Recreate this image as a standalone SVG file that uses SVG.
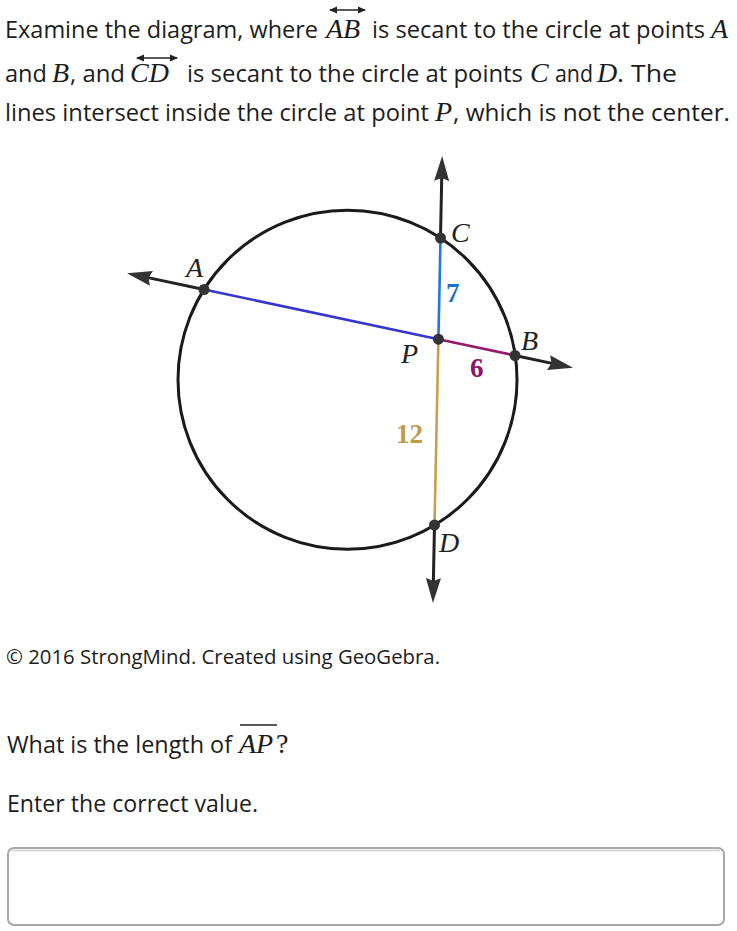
<svg xmlns="http://www.w3.org/2000/svg" width="737" height="931" viewBox="0 0 737 931">
<style>
.t{font-family:"Open Sans","DejaVu Sans",sans-serif;font-size:23.5px;fill:#1c1c1c}
.m{font-family:"Liberation Serif","Times New Roman",serif;font-style:italic;font-size:28px;fill:#1c1c1c}
.q{font-family:"Liberation Serif","Times New Roman",serif;font-size:28px;fill:#1c1c1c}
.small{font-family:"Open Sans","DejaVu Sans",sans-serif;font-size:20px;fill:#1c1c1c}
.lbl{font-family:"Liberation Serif","Times New Roman",serif;font-style:italic;font-size:28px;fill:#222}
.num{font-family:"Liberation Serif","Times New Roman",serif;font-weight:bold;font-size:27px}
.ray{stroke:#222;stroke-width:3;fill:none;marker-end:url(#ah)}
.seg{stroke-width:2.6;fill:none}
.pt{fill:#333}
.harr{stroke:#222;stroke-width:1.4;marker-start:url(#sa);marker-end:url(#sa)}
</style>
<defs>
<marker id="ah" markerUnits="userSpaceOnUse" viewBox="0 0 25 15" refX="12" refY="7.5" markerWidth="25" markerHeight="15" orient="auto">
<path d="M0,0 L25,7.5 L0,15 L3,7.5 Z" fill="#333"/>
</marker>
<marker id="sa" markerUnits="userSpaceOnUse" viewBox="0 0 8 8" refX="7" refY="4" markerWidth="8" markerHeight="8" orient="auto-start-reverse">
<path d="M0,0.5 L8,4 L0,7.5 Z" fill="#222"/>
</marker>
</defs>
<rect width="737" height="931" fill="#fff"/>

<g id="question-text">
<text class="t" x="5" y="38" textLength="313" lengthAdjust="spacingAndGlyphs">Examine the diagram, where</text>
<text class="m" x="326" y="38">AB</text>
<line class="harr" x1="330" y1="10" x2="365" y2="10"/>
<text class="t" x="372" y="38" textLength="333" lengthAdjust="spacingAndGlyphs">is secant to the circle at points</text>
<text class="m" x="711" y="38">A</text>

<text class="t" x="5" y="82" textLength="42" lengthAdjust="spacingAndGlyphs">and</text>
<text class="m" x="52" y="82">B</text>
<text class="t" x="70" y="82" textLength="55" lengthAdjust="spacingAndGlyphs">, and</text>
<text class="m" x="130" y="82">CD</text>
<line class="harr" x1="137" y1="58" x2="177" y2="58"/>
<text class="t" x="187" y="82" textLength="336" lengthAdjust="spacingAndGlyphs">is secant to the circle at points</text>
<text class="m" x="530" y="82">C</text>
<text class="t" x="555" y="82" textLength="38" lengthAdjust="spacingAndGlyphs">and</text>
<text class="m" x="597" y="82">D</text>
<text class="t" x="617" y="82" textLength="60" lengthAdjust="spacingAndGlyphs">. The</text>

<text class="t" x="5" y="121" textLength="424" lengthAdjust="spacingAndGlyphs">lines intersect inside the circle at point</text>
<text class="m" x="435" y="121">P</text>
<text class="t" x="453" y="121" textLength="277" lengthAdjust="spacingAndGlyphs">, which is not the center.</text>
</g>

<g id="circle">
<circle cx="347.5" cy="379.7" r="169.5" fill="none" stroke="#1a1a1a" stroke-width="3"/>
</g>

<g id="connectors">
<line class="seg" x1="204" y1="289.5" x2="438.4" y2="339.2" stroke="#3535cf"/>
<line class="seg" x1="438.4" y1="339.2" x2="515" y2="355.5" stroke="#951a6c"/>
<line class="seg" x1="440.5" y1="238" x2="438.4" y2="339.2" stroke="#1f78dc"/>
<line class="seg" x1="438.4" y1="339.2" x2="434.5" y2="525" stroke="#c9a04a"/>
<line class="ray" x1="204" y1="289.5" x2="139.7" y2="275.9"/>
<line class="ray" x1="515" y1="355.5" x2="560.3" y2="365.1"/>
<line class="ray" x1="440.5" y1="238" x2="441.9" y2="169"/>
<line class="ray" x1="434.5" y1="525" x2="433.2" y2="590"/>
</g>

<g id="point-A"><circle class="pt" cx="204" cy="289.5" r="5.5"/><text class="lbl" x="186" y="277">A</text></g>
<g id="point-B"><circle class="pt" cx="515" cy="355.5" r="5.5"/><text class="lbl" x="521" y="350">B</text></g>
<g id="point-C"><circle class="pt" cx="440.5" cy="238" r="5.5"/><text class="lbl" x="451" y="242">C</text></g>
<g id="point-D"><circle class="pt" cx="434.5" cy="525" r="5.5"/><text class="lbl" x="439" y="552">D</text></g>
<g id="point-P"><circle class="pt" cx="438.4" cy="339.2" r="5.5"/><text class="lbl" x="401" y="363">P</text></g>

<g id="segment-labels">
<text class="num" x="446" y="302" fill="#1a6fd6">7</text>
<text class="num" x="470" y="377" fill="#8e1468">6</text>
<text class="num" x="396" y="443" fill="#bf9b47">12</text>
</g>

<g id="credit">
<text class="small" x="6" y="664" textLength="434" lengthAdjust="spacingAndGlyphs">© 2016 StrongMind. Created using GeoGebra.</text>
</g>

<g id="prompt">
<text class="t" x="7" y="753" textLength="225" lengthAdjust="spacingAndGlyphs">What is the length of</text>
<text class="m" x="239" y="753">AP</text>
<line x1="240" y1="725" x2="277" y2="725" stroke="#222" stroke-width="1.5"/>
<text class="q" x="276" y="753">?</text>
<text class="t" x="7" y="812" textLength="251" lengthAdjust="spacingAndGlyphs">Enter the correct value.</text>
</g>

<g id="answer-box">
<rect x="8" y="848" width="716" height="77" rx="6" fill="#fff" stroke="#a8a8a8" stroke-width="2"/>
<line x1="12" y1="850.5" x2="720" y2="850.5" stroke="#d0d0d0" stroke-width="1.5"/>
</g>
</svg>
